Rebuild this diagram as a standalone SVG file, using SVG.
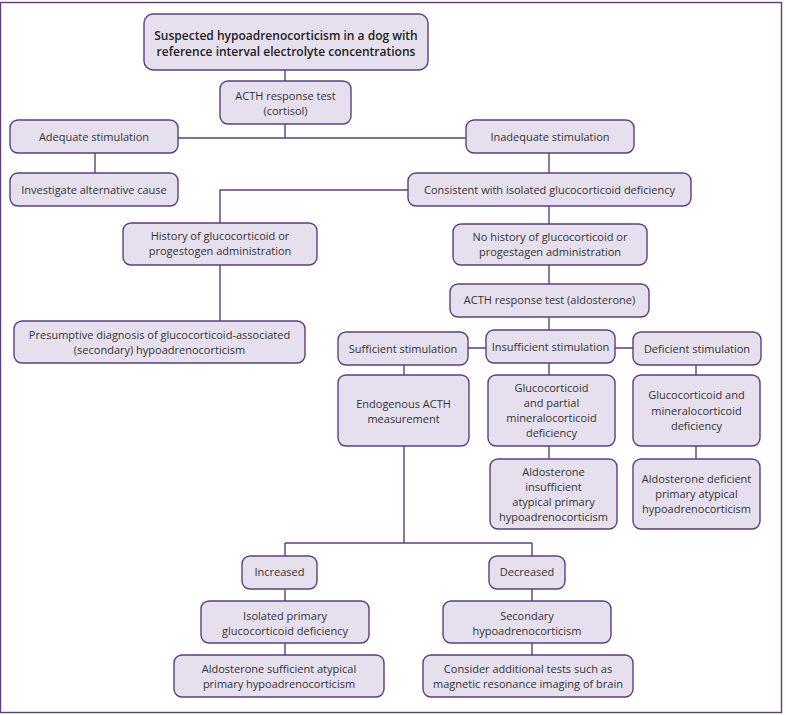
<svg xmlns="http://www.w3.org/2000/svg" width="786" height="715" viewBox="0 0 786 715">
<style>
.n rect{fill:#e6e0ee;stroke:#5b3f7f;stroke-width:1.4}
.n text{font-family:"Open Sans","Noto Sans","Liberation Sans",sans-serif;font-size:11px;fill:#333;text-anchor:middle}
.t text{font-size:12px;font-weight:600;fill:#222}
#c path{fill:none;stroke:#5b3f7f;stroke-width:1.4}
</style>
<rect x="0.5" y="2.5" width="781" height="710" fill="#fff" stroke="#5b3f7f" stroke-width="1.4"/>
<g id="c">
<path d="M285 70V81"/>
<path d="M285 124V138M178 138H466"/>
<path d="M95 153V173"/>
<path d="M549 153V173"/>
<path d="M408 190H220V223"/>
<path d="M220 265V321"/>
<path d="M549 206V224"/>
<path d="M549 265V284"/>
<path d="M549 317V330"/>
<path d="M468 348H486M615 348H633"/>
<path d="M404 365V375"/>
<path d="M549 363V375M549 446V459"/>
<path d="M696 365V375M696 446V459"/>
<path d="M404 446V543M285 543H532M285 543V556M532 543V556"/>
<path d="M285 589V601M285 643V655"/>
<path d="M532 589V601M532 643V655"/>
</g>
<g id="n1" class="n t"><rect x="144" y="14" width="284" height="56" rx="9"/><text x="286" y="40">Suspected hypoadrenocorticism in a dog with</text><text x="286" y="56">reference interval electrolyte concentrations</text></g>
<g id="n2" class="n"><rect x="220" y="81" width="131" height="43" rx="8"/><text x="285.5" y="100">ACTH response test</text><text x="285.5" y="115">(cortisol)</text></g>
<g id="n3" class="n"><rect x="10" y="120" width="168" height="33" rx="8"/><text x="94" y="141">Adequate stimulation</text></g>
<g id="n4" class="n"><rect x="466" y="120" width="168" height="33" rx="8"/><text x="550" y="141">Inadequate stimulation</text></g>
<g id="n5" class="n"><rect x="10" y="173" width="168" height="33" rx="8"/><text x="94" y="194">Investigate alternative cause</text></g>
<g id="n6" class="n"><rect x="408" y="173" width="283" height="33" rx="8"/><text x="549.5" y="194">Consistent with isolated glucocorticoid deficiency</text></g>
<g id="n7" class="n"><rect x="123" y="223" width="194" height="42" rx="8"/><text x="220" y="240">History of glucocorticoid or</text><text x="220" y="255">progestogen administration</text></g>
<g id="n8" class="n"><rect x="14" y="321" width="291" height="42" rx="8"/><text x="159.5" y="339">Presumptive diagnosis of glucocorticoid-associated</text><text x="159.5" y="354">(secondary) hypoadrenocorticism</text></g>
<g id="n9" class="n"><rect x="453" y="224" width="194" height="41" rx="8"/><text x="550" y="241">No history of glucocorticoid or</text><text x="550" y="256">progestagen administration</text></g>
<g id="n10" class="n"><rect x="450" y="284" width="199" height="33" rx="8"/><text x="549.5" y="304">ACTH response test (aldosterone)</text></g>
<g id="n11" class="n"><rect x="338" y="332" width="130" height="33" rx="8"/><text x="403" y="353">Sufficient stimulation</text></g>
<g id="n12" class="n"><rect x="486" y="330" width="129" height="33" rx="8"/><text x="550.5" y="351">Insufficient stimulation</text></g>
<g id="n13" class="n"><rect x="633" y="332" width="128" height="33" rx="8"/><text x="697" y="353">Deficient stimulation</text></g>
<g id="n14" class="n"><rect x="338" y="375" width="131" height="71" rx="8"/><text x="403.5" y="408">Endogenous ACTH</text><text x="403.5" y="423">measurement</text></g>
<g id="n15" class="n"><rect x="488" y="375" width="127" height="71" rx="8"/><text x="551.5" y="392">Glucocorticoid</text><text x="551.5" y="407">and partial</text><text x="551.5" y="422">mineralocorticoid</text><text x="551.5" y="437">deficiency</text></g>
<g id="n16" class="n"><rect x="490" y="459" width="127" height="70" rx="8"/><text x="553.5" y="476">Aldosterone</text><text x="553.5" y="491">insufficient</text><text x="553.5" y="506">atypical primary</text><text x="553.5" y="521">hypoadrenocorticism</text></g>
<g id="n17" class="n"><rect x="633" y="375" width="127" height="71" rx="8"/><text x="696.5" y="399">Glucocorticoid and</text><text x="696.5" y="415">mineralocorticoid</text><text x="696.5" y="430">deficiency</text></g>
<g id="n18" class="n"><rect x="633" y="459" width="127" height="70" rx="8"/><text x="696.5" y="483">Aldosterone deficient</text><text x="696.5" y="498">primary atypical</text><text x="696.5" y="513">hypoadrenocorticism</text></g>
<g id="n19" class="n"><rect x="242" y="556" width="75" height="33" rx="8"/><text x="279.5" y="576">Increased</text></g>
<g id="n20" class="n"><rect x="489" y="556" width="76" height="33" rx="8"/><text x="527" y="576">Decreased</text></g>
<g id="n21" class="n"><rect x="201" y="601" width="168" height="42" rx="8"/><text x="285" y="620">Isolated primary</text><text x="285" y="635">glucocorticoid deficiency</text></g>
<g id="n22" class="n"><rect x="443" y="601" width="168" height="42" rx="8"/><text x="527" y="620">Secondary</text><text x="527" y="635">hypoadrenocorticism</text></g>
<g id="n23" class="n"><rect x="174" y="655" width="210" height="42" rx="8"/><text x="279" y="673">Aldosterone sufficient atypical</text><text x="279" y="688">primary hypoadrenocorticism</text></g>
<g id="n24" class="n"><rect x="423" y="655" width="210" height="42" rx="8"/><text x="528" y="673">Consider additional tests such as</text><text x="528" y="688">magnetic resonance imaging of brain</text></g>
</svg>
